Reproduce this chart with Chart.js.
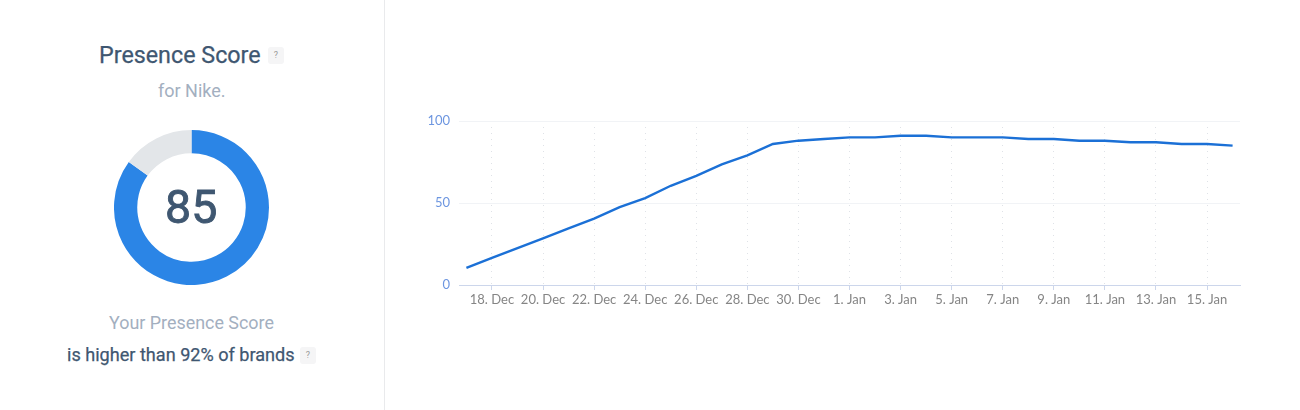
<!DOCTYPE html>
<html>
<head>
<meta charset="utf-8">
<title>Presence Score</title>
<script src="https://cdn.jsdelivr.net/npm/chart.js@4/dist/chart.umd.min.js"></script>
<style>
    html, body { margin: 0; padding: 0; background: #fff; overflow: hidden; }
    body { width: 1300px; height: 410px; position: relative; font-family: Roboto, sans-serif; }
    .divider { position: absolute; left: 384px; top: 0; width: 1px; height: 410px; background: #e9eaec; }
    .txt { position: absolute; white-space: nowrap; line-height: 1; }
    .help { position: absolute; width: 16px; height: 17px; line-height: 17px; border-radius: 3px; background: #f5f5f6; color: #9a9a9a; font-size: 9px; text-align: center; }
    #title { left: 99px; top: 44px; font-size: 23.3px; -webkit-text-stroke: 0.25px #3f5771; color: #3f5771; }
    #brand { left: 158px; top: 82px; font-size: 18px; color: #a3afbf; }
    #score { left: 165px; top: 184px; font-size: 46.5px; -webkit-text-stroke: 0.9px #3f5771; color: #3f5771; }
    #your { left: 109px; top: 314px; font-size: 17.9px; color: #a3afbf; }
    #higher { left: 67px; top: 346px; font-size: 18.1px; -webkit-text-stroke: 0.25px #3f5771; color: #3f5771; }
    #gauge { position: absolute; left: 114px; top: 130px; }
    #trend { position: absolute; left: 390px; top: 0; }
</style>
</head>
<body>
<div class="divider"></div>
<div class="txt" id="title">Presence Score</div>
<div class="help" style="left:268px;top:47px">?</div>
<div class="txt" id="brand">for Nike.</div>
<canvas id="gauge" width="155" height="155"></canvas>
<div class="txt" id="score">85</div>
<div class="txt" id="your">Your Presence Score</div>
<div class="txt" id="higher">is higher than 92% of brands</div>
<div class="help" style="left:300px;top:347px">?</div>
<canvas id="trend" width="910" height="410"></canvas>
<script>
const gaugeLabels = ['Score', 'Rest'];
const gaugeValues = [85, 15];

const days = ['17. Dec', '18. Dec', '19. Dec', '20. Dec', '21. Dec', '22. Dec', '23. Dec', '24. Dec',
    '25. Dec', '26. Dec', '27. Dec', '28. Dec', '29. Dec', '30. Dec', '31. Dec', '1. Jan', '2. Jan',
    '3. Jan', '4. Jan', '5. Jan', '6. Jan', '7. Jan', '8. Jan', '9. Jan', '10. Jan', '11. Jan',
    '12. Jan', '13. Jan', '14. Jan', '15. Jan', '16. Jan'];
const presence = [10.5, 16.5, 22.5, 28.5, 34.5, 40.5, 47.5, 53, 60.5, 66.5, 73.5, 79, 86, 88, 89, 90, 90,
    91, 91, 90, 90, 90, 89, 89, 88, 88, 87, 87, 86, 86, 85];
const yTicks = [0, 50, 100];

Chart.defaults.animation = false;

new Chart(document.getElementById('gauge'), {
    type: 'doughnut',
    data: {
        labels: gaugeLabels,
        datasets: [{
            data: gaugeValues,
            backgroundColor: ['#2b85e6', '#e3e6e9'],
            borderWidth: 0
        }]
    },
    options: {
        responsive: false,
        cutout: '70%',
        plugins: { legend: { display: false }, tooltip: { enabled: false } }
    }
});

new Chart(document.getElementById('trend'), {
    type: 'line',
    data: {
        datasets: [{
            data: presence.map((v, i) => ({ x: i, y: v })),
            borderColor: '#1b70d6',
            borderWidth: 2.4,
            pointRadius: 0,
            tension: 0
        }]
    },
    options: {
        responsive: false,
        layout: { padding: { left: 0, right: 60, top: 121, bottom: 85 } },
        plugins: { legend: { display: false }, tooltip: { enabled: false } },
        scales: {
            x: {
                type: 'linear',
                min: -0.29,
                max: 30.29,
                afterBuildTicks: axis => {
                    axis.ticks = days.map((d, i) => ({ value: i })).filter(t => t.value % 2 === 1);
                },
                afterFit: axis => { axis.height = 40; },
                ticks: {
                    autoSkip: false,
                    maxRotation: 0,
                    padding: 2,
                    color: '#858585',
                    font: { family: 'Lato', size: 13 },
                    callback: value => days[value]
                },
                border: { display: true, color: '#ccd6eb', dash: [1, 5] },
                grid: {
                    color: '#dfe2e7',
                    lineWidth: 1,
                    tickColor: '#ccd6eb',
                    tickLength: 5,
                    tickBorderDash: [1, 0]
                }
            },
            y: {
                min: 0,
                max: 100,
                afterBuildTicks: axis => {
                    axis.ticks = yTicks.map(v => ({ value: v }));
                },
                afterFit: axis => { axis.width = 69; },
                ticks: {
                    padding: 9,
                    color: '#6d96e0',
                    font: { family: 'Lato', size: 13 }
                },
                border: { display: false },
                grid: { color: '#f1f3f6', lineWidth: 1, drawTicks: false }
            }
        }
    }
});
</script>
</body>
</html>
